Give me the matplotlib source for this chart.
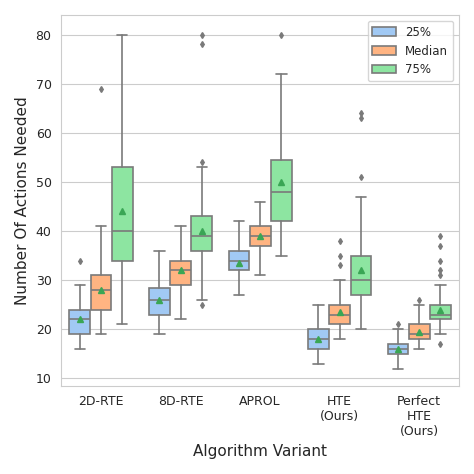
import matplotlib
matplotlib.use("Agg")
import matplotlib.pyplot as plt
import seaborn as sns

sns.set_style("whitegrid")
plt.rcParams['font.family'] = ['DejaVu Sans']

categories = ["2D-RTE", "8D-RTE", "APROL", "HTE\n(Ours)", "Perfect\nHTE\n(Ours)"]
hues = ["25%", "Median", "75%"]
colors = ['#a1c9f4', '#ffb482', '#8de5a1']

whislo = {"25%": [16, 19, 27, 13, 12], "Median": [19, 22, 31, 18, 16], "75%": [21, 26, 35, 20, 19]}
q1 = {"25%": [19, 23, 32, 16, 15], "Median": [24, 29, 37, 21, 18], "75%": [34, 36, 42, 27, 22]}
med = {"25%": [22, 26, 34, 18, 16], "Median": [28, 32, 39, 23, 19], "75%": [40, 39, 48, 30, 23]}
q3 = {"25%": [24, 28.5, 36, 20, 17], "Median": [31, 34, 41, 25, 21], "75%": [53, 43, 54.5, 35, 25]}
whishi = {"25%": [29, 36, 42, 25, 20], "Median": [41, 41, 46, 30, 25], "75%": [80, 53, 72, 47, 29]}
means = {"25%": [22, 26, 33.5, 18, 16], "Median": [28, 32, 39, 23.5, 19.5], "75%": [44, 40, 50, 32, 24]}
fliers = {
    "25%": [[34], [], [], [], [21]],
    "Median": [[69], [], [], [33, 35, 38], [26]],
    "75%": [[], [25, 54, 78, 80], [80], [51, 63, 64], [17, 31, 32, 34, 37, 39]],
}

fig, ax = plt.subplots(figsize=(4.74, 4.74), dpi=100)
w = 0.8 / 3
for j, h in enumerate(hues):
    stats = []
    for i in range(len(categories)):
        stats.append(dict(whislo=whislo[h][i], q1=q1[h][i], med=med[h][i], q3=q3[h][i],
                          whishi=whishi[h][i], mean=means[h][i], fliers=fliers[h][i]))
    pos = [i - 0.4 + w * (j + 0.5) for i in range(len(categories))]
    bp = ax.bxp(stats, positions=pos, widths=w * 0.98, patch_artist=True, showmeans=True,
                boxprops=dict(facecolor=colors[j], edgecolor='#7a7a7a', linewidth=1.2),
                medianprops=dict(color='#7a7a7a', linewidth=1.2),
                whiskerprops=dict(color='#7a7a7a', linewidth=1.2),
                capprops=dict(color='#7a7a7a', linewidth=1.2),
                meanprops=dict(marker='^', markerfacecolor='#3aa655', markeredgecolor='#3aa655', markersize=5),
                flierprops=dict(marker='d', markersize=3, markerfacecolor='#7a7a7a', markeredgecolor='#7a7a7a'))
    bp['boxes'][0].set_label(h)

ax.set_xticks(range(len(categories)))
ax.set_xticklabels(categories, fontsize=9)
ax.set_xlim(-0.5, len(categories) - 0.5)
ax.set_ylim(8.5, 84)
ax.set_yticks(range(10, 81, 10))
ax.grid(False, axis='x')
ax.tick_params(axis='y', labelsize=9)
ax.set_xlabel("Algorithm Variant", fontsize=11)
ax.set_ylabel("Number Of Actions Needed", fontsize=11)
ax.legend(loc='upper right', fontsize=8.5)
fig.tight_layout()
fig.savefig("out.png", dpi=100)
